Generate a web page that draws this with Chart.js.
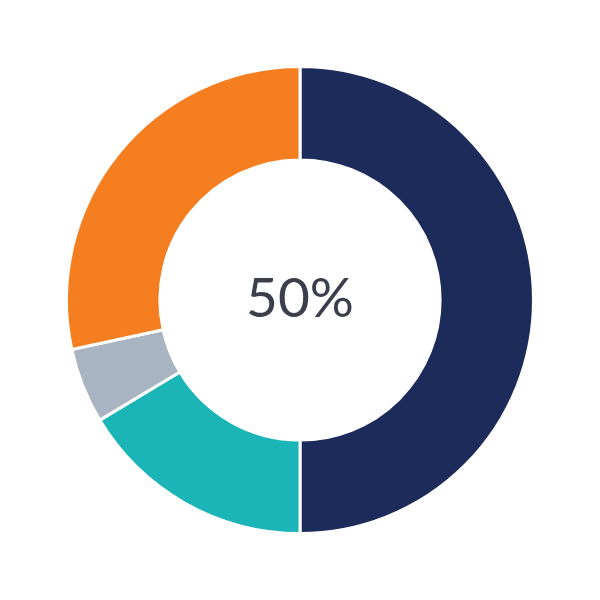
<!DOCTYPE html>
<html>
<head>
<meta charset="utf-8">
<script src="https://cdn.jsdelivr.net/npm/chart.js@4"></script>
<style>
  html, body { margin: 0; padding: 0; background: #fff; }
  #wrap { position: relative; width: 600px; height: 600px; }
  #center {
    position: absolute; left: 0; top: -4px; width: 600px; height: 600px;
    display: flex; align-items: center; justify-content: center;
    font-family: Lato, sans-serif; font-size: 55px; color: #3b3f4c;
    pointer-events: none;
  }
</style>
</head>
<body>
<div id="wrap">
  <canvas id="chart1" width="600" height="600"></canvas>
  <div id="center">50%</div>
</div>
<script>
const labels = ['Navy', 'Teal', 'Gray', 'Orange'];
const values = [50, 16.4, 5.2, 28.4];
const colors = ['#1c2b5a', '#1bb5b8', '#a8b4c2', '#f47e20'];

new Chart(document.getElementById('chart1'), {
  type: 'doughnut',
  data: {
    labels: labels,
    datasets: [{
      data: values,
      backgroundColor: colors,
      borderColor: '#ffffff',
      borderWidth: 3,
      hoverOffset: 0
    }]
  },
  options: {
    responsive: false,
    animation: false,
    cutout: '60%',
    layout: { padding: 65 },
    plugins: {
      legend: { display: false },
      tooltip: { enabled: false }
    }
  }
});
</script>
</body>
</html>
